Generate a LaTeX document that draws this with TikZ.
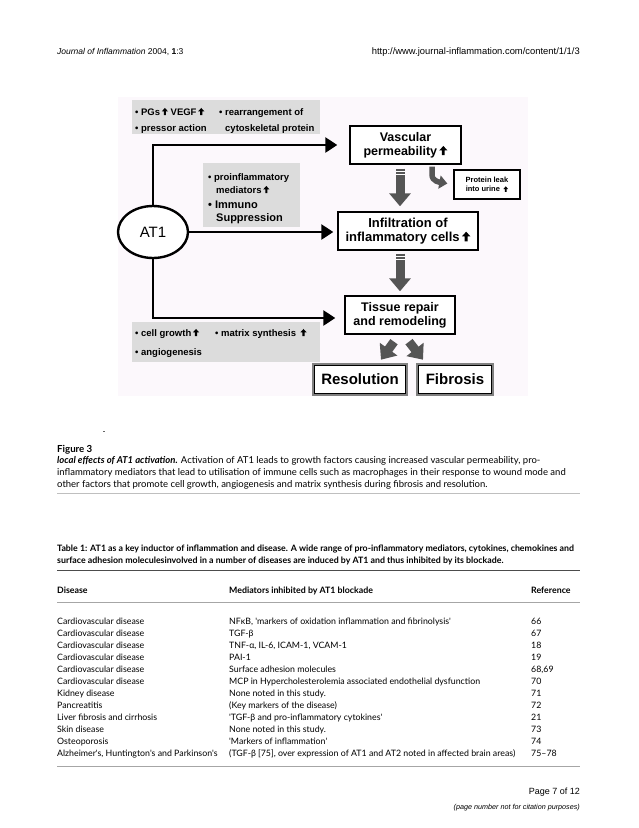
\documentclass[tikz,border=0pt]{standalone}
\usepackage{fontspec}
\setmainfont{Liberation Sans}
\newfontfamily\gill{Lato}
\usetikzlibrary{arrows.meta,shapes.geometric}
\newcommand\upar{\,\tikz[x=0.1em,y=0.1em,baseline=0pt]\fill (-1.1,0) -- (-1.1,3.8) -- (-3.3,3.8) -- (0,7.4) -- (3.3,3.8) -- (1.1,3.8) -- (1.1,0) -- cycle;}
\definecolor{figbg}{HTML}{FCF8FC}
\definecolor{graybox}{HTML}{DCDCDC}
\definecolor{garr}{HTML}{555555}
\begin{document}
\begin{tikzpicture}[x=1pt,y=-1pt,
  flowbox/.style={draw, line width=1.4pt, fill=white, align=center, inner sep=0pt,
    font=\bfseries\fontsize{12.5}{15}\selectfont},
  endbox/.style={draw=black!50, line width=2.6pt, fill=white, inner sep=0pt,
    font=\bfseries\fontsize{15}{17}\selectfont},
  shade/.style={fill=graybox, draw=none, inner sep=0pt},
  gtext/.style={anchor=base west, inner sep=0pt, font=\bfseries\fontsize{9.5}{11}\selectfont},
  blackarrow/.style={line width=2.6pt, -{Triangle[length=12pt,width=15pt]}},
  grayarrow/.style={line width=9pt, draw=garr, -{Triangle[length=13pt,width=21pt]}},
  captext/.style={anchor=base west, inner sep=0pt, font=\gill\fontsize{9.5}{11}\selectfont},
  tab/.style={anchor=base west, inner sep=0pt, font=\gill\fontsize{8.8}{10}\selectfont},
  tabb/.style={tab, font=\gill\bfseries\fontsize{8.8}{10}\selectfont},
  hdr/.style={inner sep=0pt, font=\fontsize{8.5}{10}\selectfont}]
\useasboundingbox (0,0) rectangle (638,828);
\fill[white] (0,0) rectangle (638,828);

% header
\node[hdr, anchor=base west] (jname) at (57,54) {\textit{Journal of Inflammation} 2004, \textbf{1}:3};
\node[hdr, anchor=base east, font=\fontsize{9.4}{11}\selectfont] (url) at (580,54) {http://www.journal-inflammation.com/content/1/1/3};

% figure background
\fill[figbg] (118,97) rectangle (528,396);

% gray annotation boxes
\node[shade, minimum width=188pt, minimum height=34pt] (gb1) at (226,117) {};
\node[shade, minimum width=97pt, minimum height=64pt] (gb2) at (251.5,195) {};
\node[shade, minimum width=188pt, minimum height=40pt] (gb3) at (226,342) {};

\node[gtext] (t1a) at (135,115) {• PGs\upar\ VEGF\upar};
\node[gtext] (t1b) at (135,131) {• pressor action};
\node[gtext] (t1c) at (219,115) {• rearrangement of};
\node[gtext] (t1d) at (225,131) {cytoskeletal protein};

\node[gtext] (t2a) at (208,180) {• proinflammatory};
\node[gtext] (t2b) at (216,193) {mediators\upar};
\node[gtext, font=\bfseries\fontsize{11}{13}\selectfont] (t2c) at (208,208) {• Immuno};
\node[gtext, font=\bfseries\fontsize{11}{13}\selectfont] (t2d) at (216,221.5) {Suppression};

\node[gtext] (t3a) at (135,336) {• cell growth\upar};
\node[gtext] (t3b) at (215,336) {• matrix synthesis \upar};
\node[gtext] (t3c) at (135,355) {• angiogenesis};

% AT1
\node[draw, ellipse, line width=2.4pt, fill=white, minimum width=70pt, minimum height=52pt,
  inner sep=0pt, font=\fontsize{15}{17}\selectfont] (at1) at (153,232) {AT1};

% boxes
\node[flowbox, minimum width=111pt, minimum height=38pt] (vasc) at (405.5,145)
  {Vascular\\[-1pt] permeability\upar};
\node[flowbox, minimum width=140pt, minimum height=38pt, font=\bfseries\fontsize{13}{15}\selectfont] (infil) at (408,231)
  {Infiltration of\\[-1pt] inflammatory cells\upar};
\node[flowbox, minimum width=110pt, minimum height=38pt] (tissue) at (400,315)
  {Tissue repair\\[-1pt] and remodeling};
\node[flowbox, line width=1.3pt, minimum width=66pt, minimum height=29pt, font=\bfseries\fontsize{7.5}{9.5}\selectfont] (leak) at (487,184.5)
  {Protein leak\\ into urine \upar};
\node[endbox, minimum width=94pt, minimum height=31pt] (resol) at (360,379.5) {Resolution};
\node[endbox, minimum width=76pt, minimum height=31pt] (fib) at (455,379.5) {Fibrosis};
\draw[line width=0.6pt] ([shift={(2.6pt,2.6pt)}]resol.south west) rectangle ([shift={(-2.6pt,-2.6pt)}]resol.north east);
\draw[line width=0.6pt] ([shift={(2.6pt,2.6pt)}]fib.south west) rectangle ([shift={(-2.6pt,-2.6pt)}]fib.north east);

% black arrows from AT1
\draw[blackarrow, shorten >=12pt] (at1.north) |- (vasc.west);
\draw[blackarrow, shorten >=4pt] (at1.east) -- (at1.east -| infil.west);
\draw[blackarrow, shorten >=9pt] (at1.south) |- ([yshift=-3pt]tissue.west);

% gray block arrows
\draw[grayarrow] ([xshift=-5.5pt,yshift=-4pt]vasc.south) -- ([xshift=-8pt,yshift=5pt]infil.north);
\draw[white, line width=0.8pt] ([xshift=-10pt,yshift=-7pt]vasc.south) -- ++(9,0);
\draw[white, line width=0.8pt] ([xshift=-10pt,yshift=-10pt]vasc.south) -- ++(9,0);
\draw[grayarrow] ([xshift=-8pt,yshift=-3pt]infil.south) -- ([yshift=4pt]tissue.north);
\draw[white, line width=0.8pt] ([xshift=-12.5pt,yshift=-6pt]infil.south) -- ++(9,0);
\draw[white, line width=0.8pt] ([xshift=-12.5pt,yshift=-9pt]infil.south) -- ++(9,0);
\draw[grayarrow] ([xshift=-6pt,yshift=-7pt]tissue.south) -- ([xshift=21pt,yshift=3pt]resol.north);
\draw[grayarrow] ([xshift=9pt,yshift=-7pt]tissue.south) -- ([xshift=-32pt,yshift=3pt]fib.north);
\draw[line width=5.5pt, draw=garr, -{Triangle[length=8pt,width=13pt]}]
  ([xshift=26.5pt,yshift=-2pt]vasc.south) -- ++(0,8) to[out=-90,in=170] ([xshift=-6pt,yshift=1pt]leak.west);

% stray mark
\draw[black!60, line width=0.6pt] (103,431) -- (105,431);

% caption
\node[captext, font=\gill\bfseries\fontsize{9.7}{11}\selectfont] (figlbl) at (57,452) {Figure 3};
\node[captext] (c1) at (57,463) {\textbf{\textit{local effects of AT1 activation.}} Activation of AT1 leads to growth factors causing increased vascular permeability, pro-};
\node[captext] (c2) at (57,475) {inflammatory mediators that lead to utilisation of immune cells such as macrophages in their response to wound mode and};
\node[captext] (c3) at (57,487) {other factors that promote cell growth, angiogenesis and matrix synthesis during fibrosis and resolution.};
\draw[black!25, line width=1.2pt] (57,493.5) -- (580,493.5);

% table
\node[tabb] (tt1) at (57,551) {Table 1: AT1 as a key inductor of inflammation and disease. A wide range of pro-inflammatory mediators, cytokines, chemokines and};
\node[tabb] (tt2) at (57,563) {surface adhesion moleculesinvolved in a number of diseases are induced by AT1 and thus inhibited by its blockade.};
\draw[black!70, line width=0.8pt] (57,570.5) -- (580,570.5);
\node[tabb] (h1) at (57,593) {Disease};
\node[tabb] (h2) at (229,593) {Mediators inhibited by AT1 blockade};
\node[tabb] (h3) at (531,593) {Reference};
\draw[black!35, line width=0.6pt] (57,602.5) -- (580,602.5);

\node[tab] (r1a) at (57,624) {Cardiovascular disease};
\node[tab] (r1b) at (229,624) {NFκB, 'markers of oxidation inflammation and fibrinolysis'};
\node[tab] (r1c) at (531,624) {66};
\node[tab] (r2a) at (57,636) {Cardiovascular disease};
\node[tab] (r2b) at (229,636) {TGF-β};
\node[tab] (r2c) at (531,636) {67};
\node[tab] (r3a) at (57,648) {Cardiovascular disease};
\node[tab] (r3b) at (229,648) {TNF-α, IL-6, ICAM-1, VCAM-1};
\node[tab] (r3c) at (531,648) {18};
\node[tab] (r4a) at (57,660) {Cardiovascular disease};
\node[tab] (r4b) at (229,660) {PAI-1};
\node[tab] (r4c) at (531,660) {19};
\node[tab] (r5a) at (57,672) {Cardiovascular disease};
\node[tab] (r5b) at (229,672) {Surface adhesion molecules};
\node[tab] (r5c) at (531,672) {68,69};
\node[tab] (r6a) at (57,684) {Cardiovascular disease};
\node[tab] (r6b) at (229,684) {MCP in Hypercholesterolemia associated endothelial dysfunction};
\node[tab] (r6c) at (531,684) {70};
\node[tab] (r7a) at (57,696) {Kidney disease};
\node[tab] (r7b) at (229,696) {None noted in this study.};
\node[tab] (r7c) at (531,696) {71};
\node[tab] (r8a) at (57,708) {Pancreatitis};
\node[tab] (r8b) at (229,708) {(Key markers of the disease)};
\node[tab] (r8c) at (531,708) {72};
\node[tab] (r9a) at (57,720) {Liver fibrosis and cirrhosis};
\node[tab] (r9b) at (229,720) {'TGF-β and pro-inflammatory cytokines'};
\node[tab] (r9c) at (531,720) {21};
\node[tab] (r10a) at (57,732) {Skin disease};
\node[tab] (r10b) at (229,732) {None noted in this study.};
\node[tab] (r10c) at (531,732) {73};
\node[tab] (r11a) at (57,744) {Osteoporosis};
\node[tab] (r11b) at (229,744) {'Markers of inflammation'};
\node[tab] (r11c) at (531,744) {74};
\node[tab] (r12a) at (57,756) {Alzheimer's, Huntington's and Parkinson's};
\node[tab] (r12b) at (229,756) {(TGF-β [75], over expression of AT1 and AT2 noted in affected brain areas)};
\node[tab] (r12c) at (531,756) {75–78};
\draw[black!35, line width=0.6pt] (57,766) -- (580,766);

% footer
\node[hdr, anchor=base east, font=\fontsize{9}{11}\selectfont] (pg) at (580,794) {Page 7 of 12};
\node[hdr, anchor=base east, font=\itshape\fontsize{7.2}{8}\selectfont] (pgn) at (580,809) {(page number not for citation purposes)};
\end{tikzpicture}
\end{document}
